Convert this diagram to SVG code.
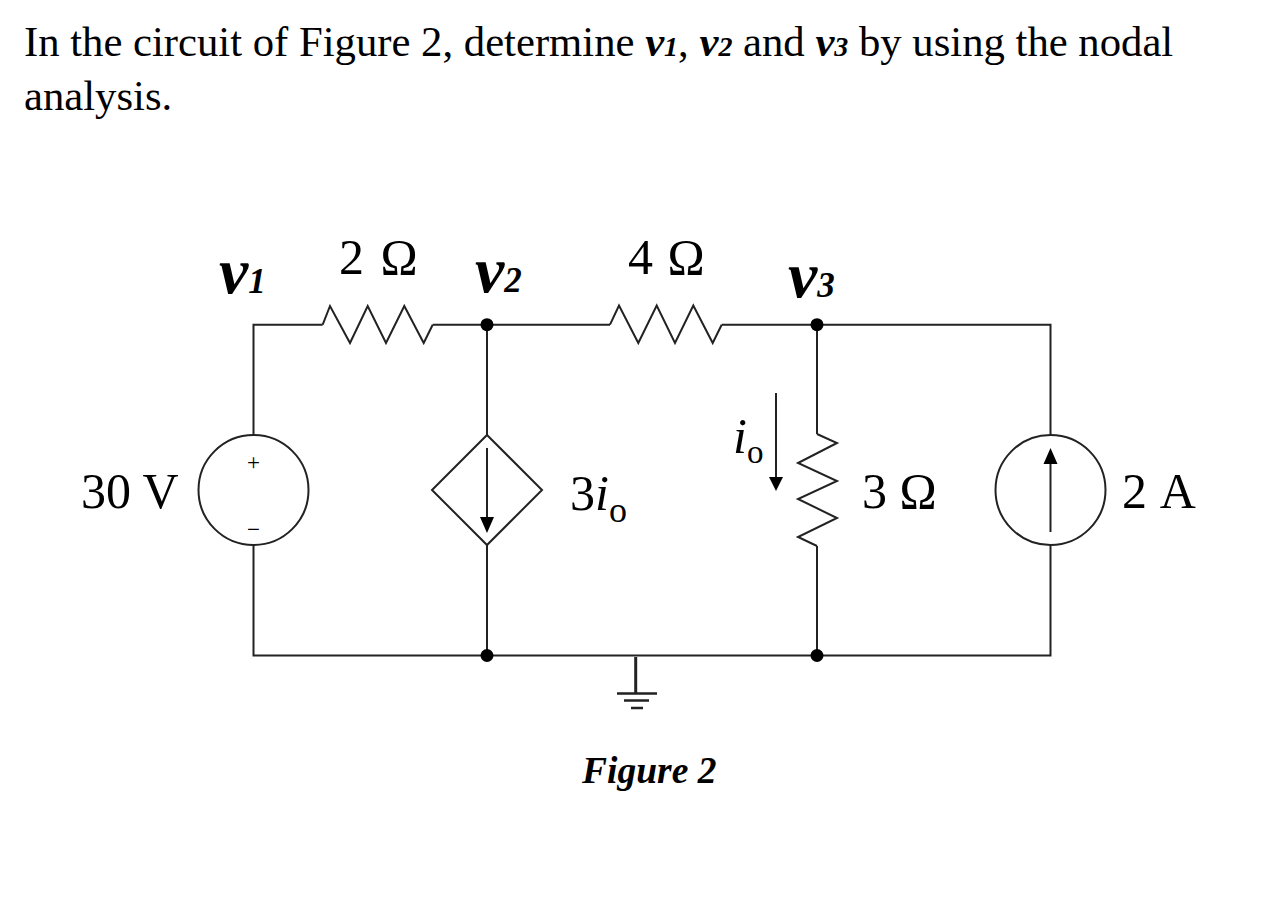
<svg xmlns="http://www.w3.org/2000/svg" width="1270" height="898" viewBox="0 0 1270 898">
<style>
text{font-family:"Liberation Serif","Times New Roman",serif;fill:#000}
.t{font-size:42.7px}
.bi{font-weight:bold;font-style:italic}
.l{font-size:50px}
.v{font-size:66px}
.s{font-size:35px}
.ts{font-size:28px}
.w{fill:none;stroke:#222;stroke-width:2;stroke-linejoin:miter}
.h{fill:#000;stroke:none}
.d{fill:#000;stroke:none}
.g{stroke:#222;fill:none}
</style>
<rect width="1270" height="898" fill="#fff"/>
<g id="question">
<text class="t" x="24" y="56">In the circuit of Figure 2, determine <tspan class="bi">v</tspan><tspan class="bi ts">1</tspan>, <tspan class="bi">v</tspan><tspan class="bi ts">2</tspan> and <tspan class="bi">v</tspan><tspan class="bi ts">3</tspan> by using the nodal</text>
<text class="t" x="24" y="110">analysis.</text>
</g>
<g id="connectors">
<path class="w" d="M253.5 435V324.7H322.7"/>
<path class="w" d="M432.7 324.7H610"/>
<path class="w" d="M721.7 324.7H1050.5V435"/>
<path class="w" d="M487 324.7V435"/>
<path class="w" d="M817 324.7V434"/>
<path class="w" d="M253.5 545V655.5H1050.5V545"/>
<path class="w" d="M487 545V655.5"/>
<path class="w" d="M817 546V655.5"/>
</g>
<g id="r1"><path class="w" d="M322.7 324.7L330 306L350 343L367.7 306L386 343L404.3 306L423.7 343L432.7 324.7"/><text class="l" x="339" y="274" word-spacing="4">2 Ω</text></g>
<g id="r2"><path class="w" d="M610 324.7L619 305.5L638.3 343L656.7 305.5L675 343L693.3 305.5L712.7 343L721.7 324.7"/><text class="l" x="628" y="274" word-spacing="2">4 Ω</text></g>
<g id="r3"><path class="w" d="M817 434L837 443L798 463L837 481L798 499L837 518L798 537L817 546"/><text class="l" x="862" y="508">3 Ω</text></g>
<g id="vs"><circle class="w" cx="253.5" cy="490" r="55"/><text x="253.5" y="470" font-size="23" text-anchor="middle">+</text><text x="253.5" y="536.5" font-size="23" text-anchor="middle">−</text><text class="l" x="81" y="508">30 V</text></g>
<g id="cccs"><path class="w" d="M487 435L542 490L487 545L432 490Z"/><path class="w" d="M487 448V520"/><path class="h" d="M480 517H494L487 533Z"/><text class="l" x="570" y="510">3<tspan font-style="italic">i</tspan><tspan font-size="36" dy="12">o</tspan></text></g>
<g id="is"><circle class="w" cx="1050.5" cy="490" r="55"/><path class="w" d="M1050.5 532V460"/><path class="h" d="M1043.5 464H1057.5L1050.5 448Z"/><text class="l" x="1122" y="508" word-spacing="3">2 A</text></g>
<g id="io"><path class="w" d="M776 393V480"/><path class="h" d="M769 477H783L776 491Z"/><text class="l" x="733" y="453" font-style="italic">i<tspan font-size="33" font-style="normal" dy="10">o</tspan></text></g>
<g id="nodes">
<circle class="d" cx="487" cy="324.7" r="6.5"/><circle class="d" cx="817" cy="324.7" r="6.5"/><circle class="d" cx="487" cy="655.5" r="6.5"/><circle class="d" cx="817" cy="655.5" r="6.5"/>
</g>
<g id="ground"><path class="g" stroke-width="3" d="M635.7 657V693"/><path class="g" stroke-width="2.7" d="M617 693.5H657M624 700.5H649M631 708H643"/></g>
<g id="labels">
<text class="bi v" x="219" y="293">v<tspan class="s">1</tspan></text>
<text class="bi v" x="475" y="292">v<tspan class="s">2</tspan></text>
<text class="bi v" x="788" y="297">v<tspan class="s">3</tspan></text>
<text class="bi" font-size="37.5" x="582" y="783">Figure 2</text>
</g>
</svg>
